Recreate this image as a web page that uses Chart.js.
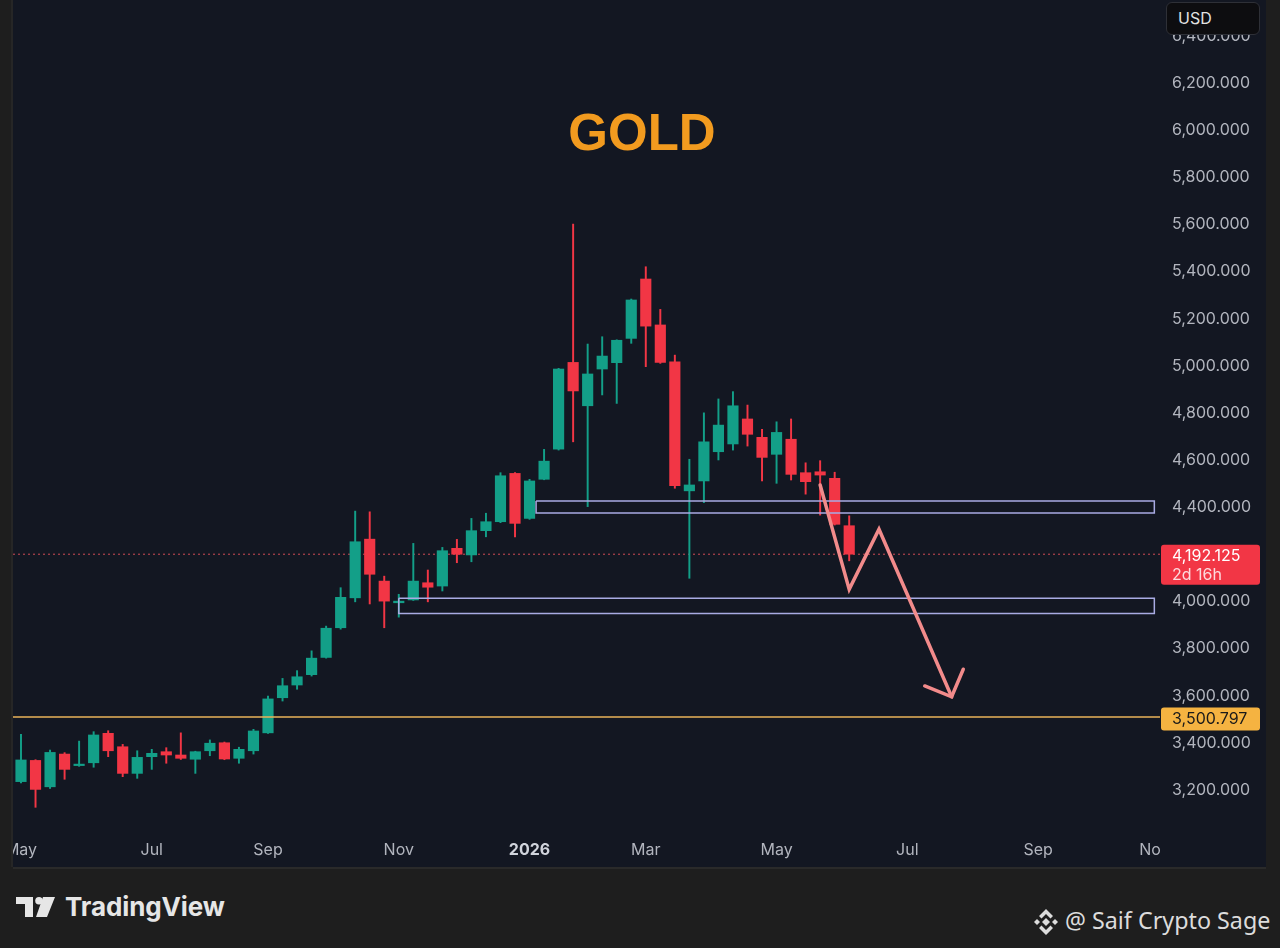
<!DOCTYPE html>
<html><head><meta charset="utf-8">
<script src="https://cdn.jsdelivr.net/npm/chart.js@4.4.1/dist/chart.umd.min.js"></script>
<style>
html,body{margin:0;padding:0;background:#1e1e1e;width:1280px;height:948px;overflow:hidden;}
#edge{position:absolute;left:11px;top:0;width:2px;height:867px;background:#262626;}
#panel{position:absolute;left:13px;top:0;width:1253px;height:867px;background:#131722;}
#panel canvas{position:absolute;left:0;top:0;}
#sep{position:absolute;left:13px;top:867px;width:1253px;height:2px;background:#2a2a2a;}
#title{position:absolute;left:0;width:1284px;top:107px;text-align:center;font:bold 51px "Liberation Sans",Arial,sans-serif;line-height:51px;color:#f29b1f;}
#usd{position:absolute;left:1166px;top:2px;width:94px;height:33px;box-sizing:border-box;background:#0d0d10;border:1px solid #2e3037;border-radius:6px;color:#e2e2e2;font:16px Inter,sans-serif;line-height:31px;padding-left:11px;}
#tvlogo{position:absolute;left:16px;top:897px;}
#tvtext{position:absolute;left:65px;top:894px;font:bold 26px Inter,sans-serif;line-height:26px;color:#e6e6e6;letter-spacing:-0.1px;}
#bnb{position:absolute;left:1032px;top:908px;}
#wm{position:absolute;left:1065px;top:909px;font:23.3px "Noto Sans",sans-serif;line-height:23.5px;color:#dcdcdc;white-space:nowrap;}
</style></head>
<body>
<div id="edge"></div>
<div id="panel"><canvas id="c" width="1253" height="867"></canvas></div>
<div id="sep"></div>
<div id="title">GOLD</div>
<div id="usd">USD</div>
<svg id="tvlogo" width="40" height="20" viewBox="0 0 40 20"><path d="M0 0H17V20H9V7H0Z" fill="#e6e6e6"/><circle cx="23" cy="3.8" r="3.8" fill="#e6e6e6"/><path d="M27 0H39L31 20H20Z" fill="#e6e6e6"/></svg>
<div id="tvtext">TradingView</div>
<svg id="bnb" width="28" height="28" viewBox="0 0 28 28"><g fill="#dcdcdc"><path d="M14 10L18 14L14 18L10 14Z"/><path d="M5 11L8 14L5 17L2 14Z"/><path d="M23 11L26 14L23 17L20 14Z"/><path d="M14 1L21 8L18.5 10.5L14 6L9.5 10.5L7 8Z"/><path d="M14 27L21 20L18.5 17.5L14 22L9.5 17.5L7 20Z"/></g></svg>
<div id="wm">@ Saif Crypto Sage</div>
<script>
// weekly candles, index 0 = first week shown (May 2025)
const openP  = [3227,3317,3205,3344,3295,3307,3432,3375,3262,3333,3354,3340,3322,3358,3392,3326,3358,3434,3583,3637,3681,3754,3880,4007,4256,4078,3986,3998,4071,4057,4217,4189,4292,4330,4535,4344,4510,4638,5006,4822,4978,5005,5108,5360,5165,5008,4461,4503,4627,4660,4766,4688,4616,4680,4538,4542,4514,4313];
const highP  = [3428,3320,3361,3350,3399,3439,3443,3385,3358,3364,3371,3434,3356,3404,3395,3373,3449,3590,3665,3698,3782,3887,4050,4375,4372,4099,4022,4238,4125,4221,4255,4344,4366,4538,4538,4510,4637,4981,5593,5084,5115,5102,5275,5412,5231,5037,4595,4792,4851,4882,4825,4722,4754,4766,4580,4589,4540,4355];
const lowP   = [3222,3118,3198,3237,3292,3288,3333,3248,3241,3279,3305,3321,3262,3337,3320,3305,3344,3432,3569,3619,3675,3751,3874,3990,3981,3880,3925,3996,3990,4036,4156,4160,4266,4326,4266,4340,4508,4634,4669,4394,4868,4832,5087,4988,5002,4472,4090,4411,4592,4634,4651,4503,4493,4507,4447,4358,4316,4164];
const closeP = [3319,3194,3351,3279,3300,3425,3358,3262,3330,3347,3340,3326,3354,3390,3323,3364,3442,3578,3634,3672,3751,3878,4009,4245,4107,3993,3993,4078,4052,4207,4192,4292,4330,4525,4323,4503,4587,4978,4885,4957,5033,5100,5271,5160,5006,4483,4486,4669,4740,4822,4701,4603,4709,4531,4500,4528,4319,4192.125];

const monthTicks  = [0, 9, 17, 26, 35, 43, 52, 61, 70, 78];
const monthLabels = ['May','Jul','Sep','Nov','2026','Mar','May','Jul','Sep','Nov'];
const priceTicks  = [3200,3400,3600,3800,4000,4200,4400,4600,4800,5000,5200,5400,5600,5800,6000,6200,6400];

// drawn zones (start week, end week, low, high)
const zoneStart = [35.45, 26];
const zoneEnd   = [78, 78];
const zoneLow   = [4367, 3941];
const zoneHigh  = [4418, 4005];

// projected path arrow
const arrowX = [55.0, 57.0, 59.05, 64.05];
const arrowY = [4486, 4043, 4298, 3587];
const headX  = [62.2, 64.05, 64.85];
const headY  = [3633, 3587, 3704];

const supportLevel = 3500.797;
const lastPrice = 4192.125;
const countdown = '2d 16h';

const X_MIN = -0.55, X_MAX = 78.39, Y_MIN = 3009, Y_MAX = 6544;
const UP = '#139f88', DOWN = '#f23645';

const candleColors = closeP.map((c,i)=> c >= openP[i] ? UP : DOWN);
const fmt = v => v.toLocaleString('en-US',{minimumFractionDigits:3,maximumFractionDigits:3});

function zonePath(k){
  return [
    {x:zoneStart[k], y:zoneHigh[k]},{x:zoneEnd[k], y:zoneHigh[k]},
    {x:zoneEnd[k], y:zoneLow[k]},{x:zoneStart[k], y:zoneLow[k]},
    {x:zoneStart[k], y:zoneHigh[k]}
  ];
}
const lineBase = {type:'line', pointRadius:0, tension:0, fill:false, borderJoinStyle:'miter'};

const overlay = {
  id:'overlay',
  afterDraw(chart){
    const {ctx, chartArea:a, scales:{x, y}} = chart;
    // time axis labels (clipped to the plot width)
    ctx.save();
    ctx.beginPath(); ctx.rect(a.left, x.top, a.right - a.left, x.height); ctx.clip();
    ctx.textAlign = 'center'; ctx.textBaseline = 'middle';
    monthTicks.forEach((t,k)=>{
      const lab = monthLabels[k];
      const bold = /^\d{4}$/.test(lab);
      ctx.font = (bold ? 'bold ' : '') + '16px Inter, sans-serif';
      ctx.fillStyle = bold ? '#d1d4dc' : '#b2b5be';
      ctx.fillText(lab, x.getPixelForValue(t), x.top + 17.5);
    });
    ctx.restore();
    // last price tag
    ctx.save();
    ctx.font = '16px Inter, sans-serif';
    ctx.textBaseline = 'middle'; ctx.textAlign = 'left';
    let py = y.getPixelForValue(lastPrice);
    ctx.fillStyle = DOWN;
    ctx.beginPath(); ctx.roundRect(a.right + 1, py - 9.5, 99, 40, 3); ctx.fill();
    ctx.fillStyle = '#ffffff';
    ctx.fillText(fmt(lastPrice), a.right + 12, py + 2);
    ctx.fillStyle = 'rgba(255,255,255,0.82)';
    ctx.fillText(countdown, a.right + 12, py + 20.5);
    // support level tag
    py = y.getPixelForValue(supportLevel);
    ctx.fillStyle = '#f5b341';
    ctx.beginPath(); ctx.roundRect(a.right + 1, py - 9.5, 99, 23, 3); ctx.fill();
    ctx.fillStyle = '#1a1a1a';
    ctx.fillText(fmt(supportLevel), a.right + 12, py + 2.5);
    ctx.restore();
  }
};

new Chart(document.getElementById('c'), {
  type:'bar',
  data:{
    datasets:[
      Object.assign({}, lineBase, {order:0, data:arrowX.map((v,i)=>({x:v,y:arrowY[i]})), borderColor:'#f28b8b', borderWidth:3.5, borderCapStyle:'round'}),
      Object.assign({}, lineBase, {order:0, data:headX.map((v,i)=>({x:v,y:headY[i]})), borderColor:'#f28b8b', borderWidth:3.5, borderCapStyle:'round'}),
      Object.assign({}, lineBase, {order:1, data:zonePath(0), borderColor:'#a9abe3', borderWidth:1.5}),
      Object.assign({}, lineBase, {order:1, data:zonePath(1), borderColor:'#a9abe3', borderWidth:1.5}),
      Object.assign({}, lineBase, {order:2, data:[{x:X_MIN,y:supportLevel},{x:X_MAX,y:supportLevel}], borderColor:'#eab35a', borderWidth:1.5}),
      {type:'bar', order:3, grouped:false, barThickness:10.5, minBarLength:1.5,
        data: openP.map((o,i)=>({x:i, y:[o, closeP[i]]})), backgroundColor:candleColors, borderWidth:0},
      {type:'bar', order:4, grouped:false, barThickness:1.3,
        data: lowP.map((l,i)=>({x:i, y:[l, highP[i]]})), backgroundColor:candleColors, borderWidth:0},
      Object.assign({}, lineBase, {order:5, data:[{x:X_MIN,y:lastPrice},{x:X_MAX,y:lastPrice}], borderColor:'rgba(242,84,96,0.85)', borderWidth:1, borderDash:[2,3]})
    ]
  },
  options:{
    responsive:false, animation:false, events:[],
    layout:{padding:0},
    plugins:{legend:{display:false}, tooltip:{enabled:false}, title:{display:false}},
    scales:{
      x:{type:'linear', min:X_MIN, max:X_MAX, offset:false,
        grid:{display:false, drawTicks:false}, border:{display:false},
        ticks:{display:false},
        afterFit(s){ s.height = 34; s.paddingLeft = 0; s.paddingRight = 0; }
      },
      y:{type:'linear', position:'right', min:Y_MIN, max:Y_MAX,
        grid:{display:false, drawTicks:false}, border:{display:false},
        afterBuildTicks(s){ s.ticks = priceTicks.map(v=>({value:v})); },
        ticks:{color:'#b2b5be', font:{family:'Inter', size:16}, padding:12, crossAlign:'near', labelOffset:2,
          callback:v=>fmt(v)},
        afterFit(s){ s.width = 106; s.paddingTop = 0; s.paddingBottom = 0; }
      }
    }
  },
  plugins:[overlay]
});
</script>
</body></html>
